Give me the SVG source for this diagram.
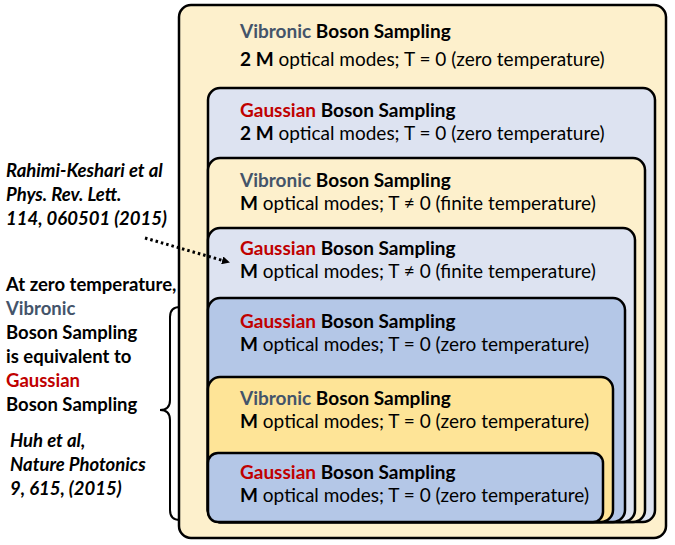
<svg xmlns="http://www.w3.org/2000/svg" width="675" height="545" viewBox="0 0 675 545">
<style>
.box{stroke:#000;stroke-width:2.5}
.y1{fill:#fdf0cc}.b1{fill:#dde3f1}.b2{fill:#b4c7e7}.y2{fill:#fee497}
text{font-family:Lato,"Liberation Sans",sans-serif;font-size:19px;fill:#000}
.t{font-weight:bold}
.v{fill:#44546a}.g{fill:#c00000}
.l{font-weight:bold;font-style:italic}
.s{font-size:18.5px}
</style>
<defs><marker id="ah" markerWidth="8" markerHeight="8" refX="6" refY="4" orient="auto" markerUnits="userSpaceOnUse"><path d="M0,0L8,4L0,8z" fill="#000"/></marker></defs>
<g id="n1"><rect class="box y1" x="179" y="5" width="487" height="533" rx="12"/>
<text x="240" y="38" class="t"><tspan class="v">Vibronic</tspan> Boson Sampling</text>
<text x="240" y="66"><tspan class="t">2 M</tspan> optical modes; T = 0 (zero temperature)</text></g>
<g id="n2"><rect class="box b1" x="208" y="88" width="447" height="434" rx="12"/>
<text x="240" y="117" class="t"><tspan class="g">Gaussian</tspan> Boson Sampling</text>
<text x="240" y="140"><tspan class="t">2 M</tspan> optical modes; T = 0 (zero temperature)</text></g>
<g id="n3"><rect class="box y1" x="208" y="158" width="437" height="364" rx="12"/>
<text x="240" y="187" class="t"><tspan class="v">Vibronic</tspan> Boson Sampling</text>
<text x="240" y="210"><tspan class="t">M</tspan> optical modes; T ≠ 0 (finite temperature)</text></g>
<g id="n4"><rect class="box b1" x="208" y="228" width="427" height="294" rx="12"/>
<text x="240" y="255" class="t"><tspan class="g">Gaussian</tspan> Boson Sampling</text>
<text x="240" y="278"><tspan class="t">M</tspan> optical modes; T ≠ 0 (finite temperature)</text></g>
<g id="n5"><rect class="box b2" x="208" y="298" width="417" height="224" rx="12"/>
<text x="240" y="328" class="t"><tspan class="g">Gaussian</tspan> Boson Sampling</text>
<text x="240" y="351"><tspan class="t">M</tspan> optical modes; T = 0 (zero temperature)</text></g>
<g id="n6"><rect class="box y2" x="208" y="377" width="405" height="145" rx="12"/>
<text x="240" y="405" class="t"><tspan class="v">Vibronic</tspan> Boson Sampling</text>
<text x="240" y="428"><tspan class="t">M</tspan> optical modes; T = 0 (zero temperature)</text></g>
<g id="n7"><rect class="box b2" x="208" y="453" width="395" height="69" rx="10"/>
<text x="240" y="479" class="t"><tspan class="g">Gaussian</tspan> Boson Sampling</text>
<text x="240" y="502"><tspan class="t">M</tspan> optical modes; T = 0 (zero temperature)</text></g>
<g id="labels" class="s">
<text class="l s" x="6" y="177">Rahimi-Keshari et al</text>
<text class="l s" x="6" y="201">Phys. Rev. Lett.</text>
<text class="l s" x="6" y="225">114, 060501 (2015)</text>
<text class="t s" x="6" y="291">At  zero temperature,</text>
<text class="t v s" x="6" y="315">Vibronic</text>
<text class="t s" x="6" y="339">Boson Sampling</text>
<text class="t s" x="6" y="363">is equivalent to</text>
<text class="t g s" x="6" y="387">Gaussian</text>
<text class="t s" x="6" y="411">Boson Sampling</text>
<text class="l s" x="10" y="447">Huh et al,</text>
<text class="l s" x="10" y="471">Nature Photonics</text>
<text class="l s" x="10" y="495">9, 615, (2015)</text>
</g>
<g id="connectors" fill="none" stroke="#000">
<path d="M145,238 L228,262" stroke-width="3" stroke-dasharray="2.5,3" marker-end="url(#ah)"/>
<path d="M180,307 Q170,307 170,317 L170,400 Q170,410 160,410 Q170,410 170,420 L170,510 Q170,520 180,520" stroke-width="2"/>
</g>
</svg>
